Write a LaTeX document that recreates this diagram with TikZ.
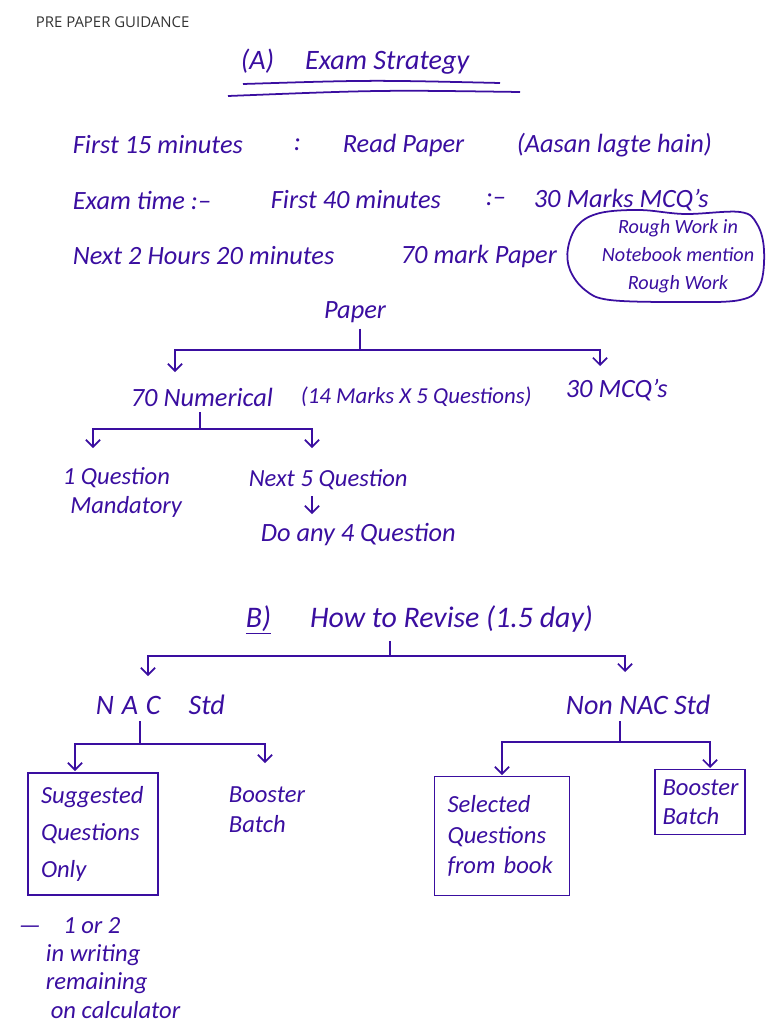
\documentclass[tikz,border=0pt]{standalone}
\usepackage{fontspec}
\setmainfont{Carlito}
\newfontfamily\headfont{Open Sans}
\usetikzlibrary{arrows.meta}
\definecolor{ink}{RGB}{58,14,160}
\newcommand{\fork}[4]{\draw[shorten <=3pt] (#2 |- #1.south) -- (#2); \draw[arr] (#2) -| (#3); \draw[arr] (#2) -| (#4);}

\begin{document}
\begin{tikzpicture}[x = 0.02cm, y = -0.02cm, line width = 1pt, ink,
  hand/.style = {inner sep = 0pt, anchor = west, text = ink, align = left, font = \itshape\fontsize{15}{17}\selectfont},
  box/.style = {hand, draw, anchor = center, inner xsep = 0.26cm},
  arr/.style = {-{Straight Barb[length = 4pt, width = 8pt]}}]
\useasboundingbox (0,0) rectangle (768,1024);
\node[anchor = west, inner sep = 0pt, text = black!80, font = \headfont\fontsize{8.5}{10}\selectfont] (head) at (35,22) {PRE PAPER GUIDANCE};
\node[hand, font = \itshape\fontsize{16}{19}\selectfont] (title) at (240,62) {(A)\hspace{1.1em}Exam Strategy};
\draw (243,84) .. controls (370,80) .. (500,83);
\draw (228,96) .. controls (380,90) .. (520,92);
% timing
\node[hand] (f15) at (72,145) {First 15 minutes};
\node[hand] (c1) at (293,145) {:};
\node[hand] (rp) at (342,145) {Read Paper};
\node[hand] (aasan) at (516,145) {(Aasan lagte hain)};
\node[hand] (et) at (72,200) {Exam time :--};
\node[hand] (f40) at (270,200) {First 40 minutes};
\node[hand] (c2) at (485,200) {:--};
\node[hand] (mcq) at (533,200) {30 Marks MCQ's};
\node[hand] (n2h) at (72,256) {Next 2 Hours 20 minutes};
\node[hand] (p70) at (400,256) {70 mark Paper};
\node[hand, anchor = center, align = center, font = \itshape\fontsize{11.5}{16}\selectfont] (rough) at (678,256) {Rough Work in\\Notebook mention\\Rough Work};
\draw plot[smooth cycle, tension = 0.6] coordinates {(568,248) (578,225) (600,213) (640,210) (685,214) (740,212) (757,224) (764,250) (760,285) (740,300) (680,302) (610,300) (585,290) (570,270)};
% paper tree
\node[hand, anchor = center] (paper) at (355,312) {Paper};
\coordinate (pj) at (360,350);
\coordinate (pl) at (175,372);
\coordinate (pr) at (600,366);
\fork{paper}{pj}{pl}{pr}
\node[hand] (n70) at (130,397) {70 Numerical};
\node[hand, font = \itshape\fontsize{13}{15}\selectfont] (qm) at (300,397) {(14 Marks X 5 Questions)};
\node[hand] (m30) at (565,390) {30 MCQ's};
\coordinate (nj) at (200,429);
\coordinate (nl) at (93,448);
\coordinate (nr) at (312,448);
\fork{n70}{nj}{nl}{nr}
\node[hand, font = \itshape\fontsize{14}{16.5}\selectfont] (q1) at (62,492) {1 Question\\\hspace*{0.3em}Mandatory};
\node[hand, font = \itshape\fontsize{14}{16.5}\selectfont] (nx5) at (248,480) {Next 5 Question};
\node[hand] (any4) at (260,535) {Do any 4 Question};
\draw[arr, shorten <=3pt] (nx5.south -| 312,0) -- (312,514);
% revise tree
\node[hand, font = \itshape\fontsize{17}{20}\selectfont] (rev) at (245,620) {\underline{B)}\hspace{1.3em}How to Revise (1.5 day)};
\coordinate (rj) at (390,656);
\coordinate (rl) at (148,676);
\coordinate (rr) at (625,672);
\fork{rev}{rj}{rl}{rr}
\node[hand, font = \itshape\fontsize{16}{18}\selectfont] (nac) at (95,705) {N\;A\;C\quad Std};
\node[hand, font = \itshape\fontsize{16}{18}\selectfont] (non) at (565,705) {Non NAC Std};
\coordinate (aj) at (140,744);
\coordinate (al) at (75,771);
\coordinate (ar) at (265,763);
\fork{nac}{aj}{al}{ar}
\coordinate (oj) at (620,742);
\coordinate (ol) at (502,775);
\coordinate (or) at (710,768);
\fork{non}{oj}{ol}{or}
\node[box, text width = 2.08cm, minimum height = 2.44cm, font = \itshape\fontsize{14}{21}\selectfont] (sq) at (93,834) {Suggested\\Questions\\Only};
\node[hand, font = \itshape\fontsize{14}{17}\selectfont] (bb1) at (228,810) {Booster\\Batch};
\node[box, text width = 2.18cm, minimum height = 2.38cm, font = \itshape\fontsize{14}{17.5}\selectfont] (sel) at (502,836) {Selected\\Questions\\from book};
\node[box, text width = 1.5cm, inner xsep = 0.15cm, minimum height = 1.3cm, font = \itshape\fontsize{14}{16.5}\selectfont] (bb2) at (700,802) {Booster\\Batch};
\node[hand, font = \itshape\fontsize{14}{16}\selectfont] (note) at (18,968) {---\hspace{0.9em}1 or 2\\\hspace*{1.1em}in writing\\\hspace*{1.1em}remaining\\\hspace*{1.3em}on calculator};
\end{tikzpicture}
\end{document}
